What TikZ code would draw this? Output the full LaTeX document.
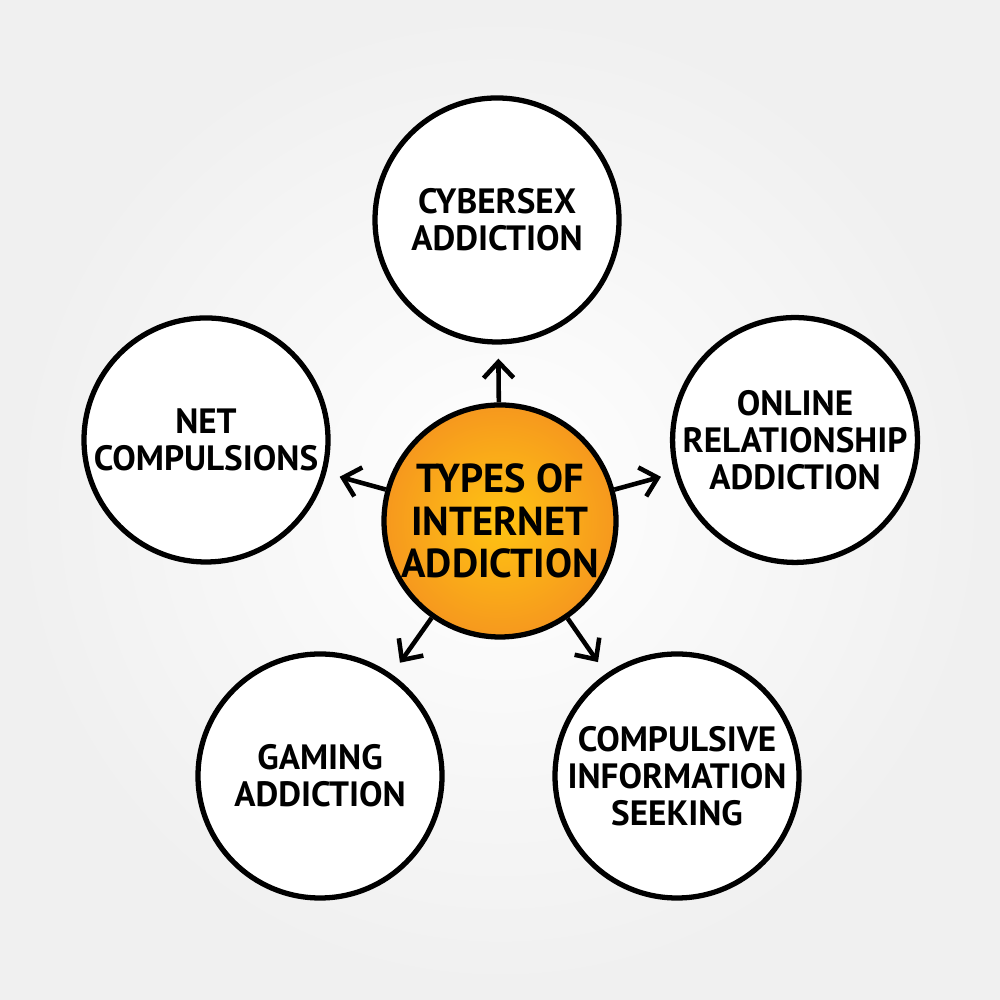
\documentclass[tikz,border=0pt]{standalone}
\usepackage{fontspec}
\setmainfont{PT Sans}
\usepackage{tikz}
\usetikzlibrary{arrows.meta}

\definecolor{hubinner}{RGB}{255,196,18}
\definecolor{hubouter}{RGB}{246,152,30}

\begin{document}
\begin{tikzpicture}[
      topic/.style={circle, draw, line width=1.5pt, fill=white,
                    minimum size=24.4mm, inner sep=0pt, align=center,
                    font=\fontsize{10}{10.5}\selectfont\bfseries},
      hub/.style={circle, draw, line width=1.5pt,
                    inner color=hubinner, outer color=hubouter,
                    minimum size=23.2mm, inner sep=0pt, align=center,
                    font=\fontsize{11.5}{12}\selectfont\bfseries},
      arrow/.style={-{Straight Barb[length=1.6mm, width=3mm]}, line width=1.3pt,
                    shorten >=1.4mm}
    ]
        % background
        \shade[inner color=white, outer color=gray!12] (0,0) rectangle (10,10);
        \useasboundingbox (0,0) rectangle (10,10);

        \node[hub] (types) at (5,4.79) {TYPES OF\\INTERNET\\ADDICTION};
        \node[topic] (cyber) at (4.97,7.80) {CYBERSEX\\ADDICTION};
        \node[topic] (online) at (7.95,5.60) {ONLINE\\RELATIONSHIP\\ADDICTION};
        \node[topic] (net) at (2.06,5.60) {NET\\COMPULSIONS};
        \node[topic] (gaming) at (3.20,2.24) {GAMING\\ADDICTION};
        \node[topic] (seeking) at (6.77,2.24) {COMPULSIVE\\INFORMATION\\SEEKING};

        \draw[arrow] (types) -- (cyber);
        \draw[arrow] (types) -- (online);
        \draw[arrow] (types) -- (net);
        \draw[arrow] (types) -- (gaming);
        \draw[arrow] (types) -- (seeking);
    \end{tikzpicture}
\end{document}
